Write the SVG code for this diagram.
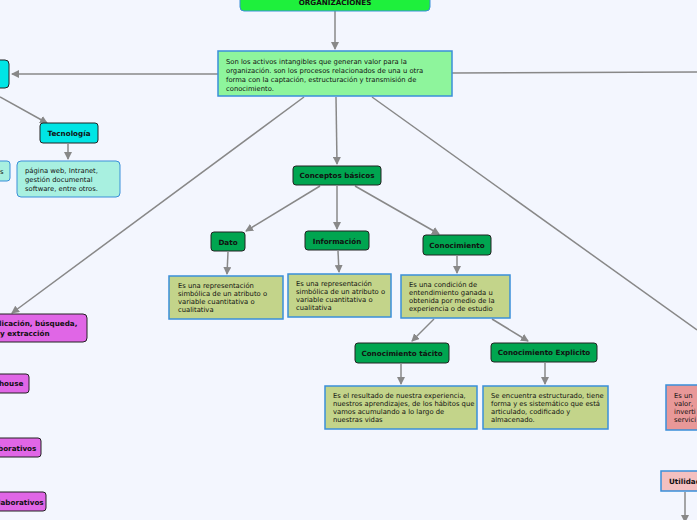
<svg xmlns="http://www.w3.org/2000/svg" width="697" height="520" viewBox="0 0 697 520">
<defs><marker id="a" markerWidth="8" markerHeight="8" refX="7" refY="4" orient="auto" markerUnits="userSpaceOnUse"><path d="M0,0L8,4L0,8z" fill="#888"/></marker></defs>
<style>
text{font-family:"DejaVu Sans",sans-serif;font-size:6.8px;fill:#111}
.b{font-weight:bold;font-size:7.2px}
.dk{fill:#00a550;stroke:#222;stroke-width:1}
.ds{fill:#c3d48a;stroke:#3a8fd9;stroke-width:1.5}
.mg{fill:#e066e6;stroke:#222}
line,path.c{stroke:#888;stroke-width:1.5;fill:none;marker-end:url(#a)}
</style>
<rect width="697" height="520" fill="#f3f6fe"/>
<g id="connectors">
<line x1="335" y1="11" x2="335" y2="49"/>
<line x1="218" y1="74" x2="12" y2="74"/>
<path d="M452,73L697,72" stroke="#888" stroke-width="1.5" fill="none"/>
<line x1="0" y1="97" x2="47" y2="123"/>
<line x1="68" y1="144" x2="68" y2="159"/>
<line x1="304" y1="97" x2="12" y2="313"/>
<line x1="336" y1="97" x2="337" y2="164"/>
<path d="M372,97L697,330" stroke="#888" stroke-width="1.5" fill="none"/>
<line x1="320" y1="186" x2="246" y2="231"/>
<line x1="337" y1="186" x2="337" y2="229"/>
<line x1="355" y1="186" x2="439" y2="234"/>
<line x1="228" y1="252" x2="227" y2="274"/>
<line x1="338" y1="251" x2="339" y2="272"/>
<line x1="457" y1="256" x2="457" y2="273"/>
<line x1="434" y1="319" x2="412" y2="341"/>
<line x1="492" y1="319" x2="528" y2="341"/>
<line x1="401" y1="364" x2="401" y2="384"/>
<line x1="545" y1="363" x2="545" y2="384"/>
<line x1="685" y1="492" x2="685" y2="522"/>
</g>
<g id="top"><rect x="240" y="-10" width="190" height="21" rx="4" fill="#1ef03c" stroke="#3a8fd9"/><text class="b" x="335" y="5" text-anchor="middle">ORGANIZACIONES</text></g>
<g id="central"><rect x="218" y="51" width="234" height="45" fill="#8ef59c" stroke="#3a8fd9" stroke-width="1.5"/>
<text x="226" y="64">Son los activos intangibles que generan valor para la</text>
<text x="226" y="73">organización. son los procesos relacionados de una u otra</text>
<text x="226" y="82">forma con la captación, estructuración y transmisión de</text>
<text x="226" y="91">conocimiento.</text></g>
<g id="cyan"><rect x="-10" y="60" width="19" height="28" rx="4" fill="#00e5e5" stroke="#222"/></g>
<g id="tec"><rect x="40" y="123" width="58" height="20" rx="3" fill="#00e5e5" stroke="#222"/><text class="b" x="69" y="136" text-anchor="middle">Tecnología</text></g>
<g id="s"><rect x="-10" y="161" width="20" height="20" rx="3" fill="#a8f0e0" stroke="#3a8fd9"/><text x="0" y="174">s</text></g>
<g id="web"><rect x="17" y="161" width="103" height="36" rx="4" fill="#a8f0e0" stroke="#3a8fd9"/>
<text x="25" y="173">página web, Intranet,</text><text x="25" y="182">gestión documental</text><text x="25" y="191">software, entre otros.</text></g>
<g id="cb"><rect class="dk" x="293" y="166" width="88" height="19" rx="3"/><text class="b" x="337" y="178" text-anchor="middle">Conceptos básicos</text></g>
<g id="dato"><rect class="dk" x="211" y="232" width="34" height="19" rx="3"/><text class="b" x="228" y="245" text-anchor="middle">Dato</text></g>
<g id="info"><rect class="dk" x="305" y="231" width="64" height="19" rx="3"/><text class="b" x="337" y="244" text-anchor="middle">Información</text></g>
<g id="con"><rect class="dk" x="423" y="235" width="68" height="20" rx="3"/><text class="b" x="457" y="248" text-anchor="middle">Conocimiento</text></g>
<g id="d1"><rect class="ds" x="169" y="276" width="114" height="43"/><text x="178" y="288">Es una representación</text><text x="178" y="296">simbólica de un atributo o</text><text x="178" y="304">variable cuantitativa o</text><text x="178" y="312">cualitativa</text></g>
<g id="d2"><rect class="ds" x="288" y="274" width="103" height="43"/><text x="296" y="286">Es una representación</text><text x="296" y="294">simbólica de un atributo o</text><text x="296" y="302">variable cuantitativa o</text><text x="296" y="310">cualitativa</text></g>
<g id="d3"><rect class="ds" x="401" y="275" width="109" height="43"/><text x="409" y="287">Es una condición de</text><text x="409" y="295">entendimiento ganada u</text><text x="409" y="303">obtenida por medio de la</text><text x="409" y="311">experiencia o de estudio</text></g>
<g id="tac"><rect class="dk" x="355" y="343" width="94" height="20" rx="3"/><text class="b" x="402" y="356" text-anchor="middle">Conocimiento tácito</text></g>
<g id="exp"><rect class="dk" x="491" y="343" width="106" height="19" rx="3"/><text class="b" x="544" y="355" text-anchor="middle">Conocimiento Explicito</text></g>
<g id="d4"><rect class="ds" x="325" y="386" width="152" height="43"/><text x="333" y="398">Es el resultado de nuestra experiencia,</text><text x="333" y="406">nuestros aprendizajes, de los hábitos que</text><text x="333" y="414">vamos acumulando a lo largo de</text><text x="333" y="422">nuestras vidas</text></g>
<g id="d5"><rect class="ds" x="483" y="386" width="125" height="43"/><text x="491" y="398">Se encuentra estructurado, tiene</text><text x="491" y="406">forma y es sistemático que está</text><text x="491" y="414">articulado, codificado y</text><text x="491" y="422">almacenado.</text></g>
<g id="m1"><rect class="mg" x="-10" y="314" width="97" height="28" rx="4"/><text class="b" x="-1" y="326">licación, búsqueda,</text><text class="b" x="0" y="336">y extracción</text></g>
<g id="m2"><rect class="mg" x="-10" y="374" width="39" height="19" rx="3"/><text class="b" x="-1" y="386">house</text></g>
<g id="m3"><rect class="mg" x="-10" y="438" width="51" height="19" rx="3"/><text class="b" x="-2" y="451">borativos</text></g>
<g id="m4"><rect class="mg" x="-10" y="492" width="56" height="19" rx="3"/><text class="b" x="-2" y="505">laborativos</text></g>
<g id="red"><rect x="666" y="385" width="40" height="45" fill="#e89898" stroke="#3a8fd9" stroke-width="1.5"/><text x="674" y="398">Es un</text><text x="674" y="406">valor,</text><text x="674" y="414">inverti</text><text x="674" y="422">servici</text></g>
<g id="util"><rect x="661" y="471" width="45" height="20" fill="#f4c0c0" stroke="#3a8fd9" stroke-width="1.5"/><text class="b" x="669" y="484">Utilidad</text></g>
</svg>
